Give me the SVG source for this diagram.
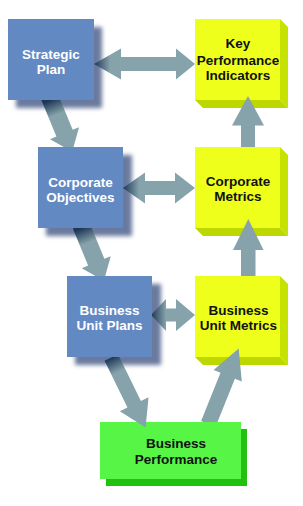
<svg xmlns="http://www.w3.org/2000/svg" width="303" height="506" viewBox="0 0 303 506">
<style>
.blue{fill:#6389c3}
.yf{fill:#eeff1c}
.ys{fill:#c6e200}
.yb{fill:#bcd800}
.arr{fill:#86a2aa}
.tw{font-family:"Liberation Sans",Arial,sans-serif;font-weight:bold;font-size:13.5px;fill:#ffffff;text-anchor:middle}
.tb{font-family:"Liberation Sans",Arial,sans-serif;font-weight:bold;font-size:13.5px;fill:#111111;text-anchor:middle}
</style>
<defs>
<filter id="blur" x="-20%" y="-20%" width="140%" height="140%"><feGaussianBlur stdDeviation="2.2"/></filter>
<linearGradient id="gH1" gradientUnits="userSpaceOnUse" x1="94" y1="0" x2="110" y2="0"><stop offset="0" stop-color="#1c3656"/><stop offset="1" stop-color="#86a2aa"/></linearGradient>
<linearGradient id="gH2" gradientUnits="userSpaceOnUse" x1="123" y1="0" x2="139" y2="0"><stop offset="0" stop-color="#1c3656"/><stop offset="1" stop-color="#86a2aa"/></linearGradient>
<linearGradient id="gH3" gradientUnits="userSpaceOnUse" x1="151" y1="0" x2="166" y2="0"><stop offset="0" stop-color="#1c3656"/><stop offset="1" stop-color="#86a2aa"/></linearGradient>
<linearGradient id="gD1" gradientUnits="userSpaceOnUse" x1="4" y1="0" x2="20" y2="0"><stop offset="0" stop-color="#1c3656"/><stop offset="1" stop-color="#86a2aa"/></linearGradient>
<linearGradient id="gD2" gradientUnits="userSpaceOnUse" x1="3" y1="0" x2="19" y2="0"><stop offset="0" stop-color="#1c3656"/><stop offset="1" stop-color="#86a2aa"/></linearGradient>
<linearGradient id="gD3" gradientUnits="userSpaceOnUse" x1="0" y1="0" x2="16" y2="0"><stop offset="0" stop-color="#1c3656"/><stop offset="1" stop-color="#86a2aa"/></linearGradient>
</defs>

<g id="kpi">
<rect class="yf" x="195" y="19" width="85" height="81"/>
<polygon class="ys" points="280,19 288,27 288,108 280,100"/>
<polygon class="yb" points="195,100 280,100 288,108 203,108"/>
<text class="tb" x="238" y="48">Key</text>
<text class="tb" x="238" y="64.5">Performance</text>
<text class="tb" x="238" y="80">Indicators</text>
</g>
<g id="corporate-metrics">
<rect class="yf" x="195" y="147" width="85" height="81"/>
<polygon class="ys" points="280,147 288,155 288,236 280,228"/>
<polygon class="yb" points="195,228 280,228 288,236 203,236"/>
<text class="tb" x="238" y="185.5">Corporate</text>
<text class="tb" x="238" y="201">Metrics</text>
</g>
<g id="business-unit-metrics">
<rect class="yf" x="195" y="276" width="85" height="81"/>
<polygon class="ys" points="280,276 288,284 288,365 280,357"/>
<polygon class="yb" points="195,357 280,357 288,365 203,365"/>
<text class="tb" x="238.5" y="314.5">Business</text>
<text class="tb" x="238.5" y="330">Unit Metrics</text>
</g>

<g id="connectors-right">
<path class="arr" transform="translate(208.3,424) rotate(-68.1)" d="M0,-7.75 L52,-7.75 L52,-15.2 L81.5,0 L52,15.2 L52,7.75 L0,7.75 Z"/>
<path class="arr" d="M241,147 L241,125.5 L232,125.5 L248,96 L264,125.5 L255,125.5 L255,147 Z"/>
<path class="arr" d="M241,276 L241,250 L233,250 L248.3,219 L263.5,250 L255.5,250 L255.5,276 Z"/>
</g>

<g id="business-performance">
<rect fill="#22c010" x="106" y="429" width="141" height="57"/>
<rect fill="#56f546" x="100" y="422" width="141" height="57"/>
<text class="tb" x="176" y="448">Business</text>
<text class="tb" x="176" y="464">Performance</text>
</g>

<g id="shadows">
<rect x="16" y="27" width="86" height="81" fill="#6a7a9e" filter="url(#blur)"/>
<rect x="46" y="155" width="86" height="81" fill="#6a7a9e" filter="url(#blur)"/>
<rect x="75" y="284" width="86" height="81" fill="#6a7a9e" filter="url(#blur)"/>
</g>

<g id="connectors">
<path fill="url(#gD1)" transform="translate(49.3,96.2) rotate(67.6)" d="M0,-8.8 L40,-8.8 L40,-15.7 L60,0 L40,15.7 L40,8.8 L0,8.8 Z"/>
<path fill="url(#gD2)" transform="translate(81,225.2) rotate(67.6)" d="M0,-8.8 L40,-8.8 L40,-15.7 L60,0 L40,15.7 L40,8.8 L0,8.8 Z"/>
<path fill="url(#gD3)" transform="translate(111.3,357.5) rotate(63.9)" d="M0,-7.5 L52,-7.5 L52,-16 L78,0 L52,16 L52,7.5 L0,7.5 Z"/>
<path fill="url(#gH1)" d="M94,64 L121,48.5 L121,57 L176,57 L176,48.5 L195,64 L176,79.5 L176,71 L121,71 L121,79.5 Z"/>
<path fill="url(#gH2)" d="M123,188 L145,172.5 L145,181 L175,181 L175,172.5 L195,188 L175,203.5 L175,195 L145,195 L145,203.5 Z"/>
<path fill="url(#gH3)" d="M151,315 L166,299 L166,308.5 L176,308.5 L176,299 L195,315 L176,331 L176,321.5 L166,321.5 L166,331 Z"/>
</g>

<g id="strategic-plan">
<rect class="blue" x="8" y="19" width="86" height="81"/>
<text class="tw" x="51" y="59">Strategic</text>
<text class="tw" x="51" y="74">Plan</text>
</g>
<g id="corporate-objectives">
<rect class="blue" x="38" y="147" width="85" height="81"/>
<text class="tw" x="80.5" y="186.5">Corporate</text>
<text class="tw" x="80.5" y="202">Objectives</text>
</g>
<g id="business-unit-plans">
<rect class="blue" x="67" y="276" width="85" height="81"/>
<text class="tw" x="109.5" y="314.5">Business</text>
<text class="tw" x="109.5" y="330">Unit Plans</text>
</g>
</svg>
